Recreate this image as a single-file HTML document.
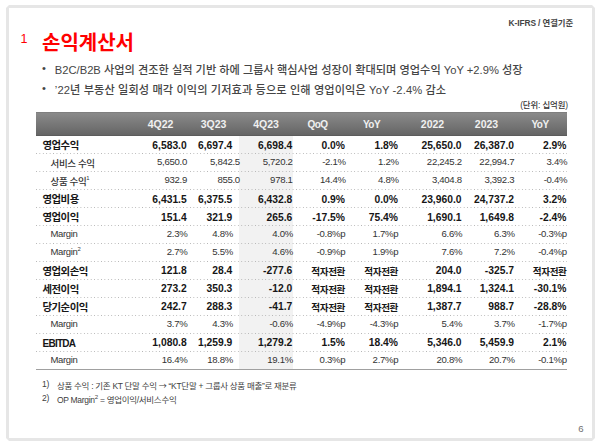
<!DOCTYPE html>
<html lang="ko"><head><meta charset="utf-8"><title>손익계산서</title><style>
*{margin:0;padding:0;box-sizing:border-box}
html,body{width:600px;height:447px;overflow:hidden;background:#fff}
body{position:relative;font-family:'Liberation Sans','Noto Sans CJK KR',sans-serif;color:#404040}
.a{position:absolute;white-space:nowrap}
.frame{position:absolute;left:6px;top:5px;width:589px;height:436px;background:#e6e6e6;clip-path:polygon(3px 0,calc(100% - 3px) 0,100% 3px,100% calc(100% - 3px),calc(100% - 3px) 100%,3px 100%,0 calc(100% - 3px),0 3px)}
.frame:after{content:'';position:absolute;left:3px;top:3px;right:3px;bottom:3px;background:#fff}
.kifrs{right:27px;top:15.5px;font-size:8.4px;font-weight:bold;color:#444;letter-spacing:-0.1px}
.num1{left:20.5px;top:31.5px;font-size:12.5px;color:#f00;line-height:14px}
.title{left:42px;top:26.5px;font-size:20px;font-weight:bold;color:#f00}
.bl{left:42px;font-size:11.2px;color:#454545;font-weight:500}
.bl i{font-style:normal;position:absolute;left:0;top:0.6px}
.bl>span{position:absolute;left:12.8px}
.unit{right:32px;top:97.5px;font-size:8.4px;font-weight:500;color:#333;letter-spacing:-0.1px}
.thead{position:absolute;left:36px;top:112px;width:531px;height:24px;background:linear-gradient(#7f7f7f 1px,#8a8a8a 1px,#656565 23px,#5c5c5c 23px)}
.th{font-size:10.5px;font-weight:bold;color:#f0f0f0;top:116px;line-height:12px;transform:translateX(-50%);margin-top:1.8px}
.th.w{font-size:10px;letter-spacing:-0.6px;top:116.3px;margin-top:2.4px}
.hl{position:absolute;left:239.3px;top:136px;width:53.7px;height:233px;background:#f2f2f2}
.row{position:absolute;left:36px;width:531px;height:18px;background:linear-gradient(to right,#b4b4b4 1px,transparent 1px) 0 100%/3.43px 1px repeat-x}
.c{position:absolute;white-space:nowrap;text-align:right;line-height:12px}
.b{font-weight:bold;color:#161616;font-size:10.3px}
.r{font-size:9.6px;color:#333;letter-spacing:-0.3px;margin-right:-0.3px}
.lab.lat{font-size:9.6px;letter-spacing:-0.25px}
.lat sup{top:-0.6em}
.lab.b{font-size:10.4px;letter-spacing:-0.5px}
.ko{font-size:9.6px;letter-spacing:-0.4px}
.lab.r{font-size:9.5px;letter-spacing:-0.35px;font-weight:500}
sup{font-size:62%;vertical-align:baseline;position:relative;top:-0.85em;line-height:0}
.bot{position:absolute;left:36px;top:368.5px;width:531px;height:1px;background:#a0a0a0}
.fn{left:42px;font-size:8.5px;color:#404040;letter-spacing:-0.3px}
.ar{font-family:'Noto Sans CJK KR',sans-serif;font-size:8px}
.fn i{font-style:normal;position:absolute;left:0}
.fn>span{position:absolute;left:15px}
.fn sup{font-size:72%;top:-0.7em}
.pg{left:578.3px;top:423px;font-size:9.6px;color:#707070}
</style></head>
<body>
<div class="frame"></div>
<div class="a kifrs">K-IFRS / 연결기준</div>
<div class="a num1">1</div>
<div class="a title">손익계산서</div>
<div class="a bl" style="top:61.3px"><i>•</i><span>B2C/B2B 사업의 견조한 실적 기반 하에 그룹사 핵심사업 성장이 확대되며 영업수익 YoY +2.9% 성장</span></div>
<div class="a bl" style="top:81.3px;letter-spacing:0.1px"><i>•</i><span>’22년 부동산 일회성 매각 이익의 기저효과 등으로 인해 영업이익은 YoY -2.4% 감소</span></div>
<div class="a unit">(단위: 십억원)</div>
<div class="thead"></div>
<div class="a th" style="left:160.6px">4Q22</div>
<div class="a th" style="left:213.5px">3Q23</div>
<div class="a th" style="left:266px">4Q23</div>
<div class="a th w" style="left:317.5px">QoQ</div>
<div class="a th w" style="left:371.5px">YoY</div>
<div class="a th" style="left:432.5px">2022</div>
<div class="a th" style="left:486.5px">2023</div>
<div class="a th w" style="left:540px">YoY</div>
<div class="hl"></div>
<div class="row" style="top:136.00px"><div class="c lab b" style="left:6.5px;top:4.4px">영업수익</div><div class="c b" style="right:380.3px;top:3.7px">6,583.0</div><div class="c b" style="right:334.7px;top:3.7px">6,697.4</div><div class="c b" style="right:274.7px;top:3.7px">6,698.4</div><div class="c b" style="right:222.0px;top:3.7px">0.0%</div><div class="c b" style="right:169.0px;top:3.7px">1.8%</div><div class="c b" style="right:105.5px;top:3.7px">25,650.0</div><div class="c b" style="right:53.0px;top:3.7px">26,387.0</div><div class="c b" style="right:0.5px;top:3.7px">2.9%</div></div>
<div class="row" style="top:153.96px"><div class="c lab r" style="left:14.5px;top:3.9px">서비스 수익</div><div class="c r" style="right:380.3px;top:2.0px">5,650.0</div><div class="c r" style="right:327.4px;top:2.0px">5,842.5</div><div class="c r" style="right:274.7px;top:2.0px">5,720.2</div><div class="c r" style="right:221.6px;top:2.0px">-2.1%</div><div class="c r" style="right:168.6px;top:2.0px">1.2%</div><div class="c r" style="right:105.5px;top:2.0px">22,245.2</div><div class="c r" style="right:53.0px;top:2.0px">22,994.7</div><div class="c r" style="right:0.1px;top:2.0px">3.4%</div></div>
<div class="row" style="top:171.92px"><div class="c lab r" style="left:14.5px;top:3.9px">상품 수익<sup>1</sup></div><div class="c r" style="right:380.3px;top:2.0px">932.9</div><div class="c r" style="right:327.4px;top:2.0px">855.0</div><div class="c r" style="right:274.7px;top:2.0px">978.1</div><div class="c r" style="right:221.6px;top:2.0px">14.4%</div><div class="c r" style="right:168.6px;top:2.0px">4.8%</div><div class="c r" style="right:105.5px;top:2.0px">3,404.8</div><div class="c r" style="right:53.0px;top:2.0px">3,392.3</div><div class="c r" style="right:0.1px;top:2.0px">-0.4%</div></div>
<div class="row" style="top:189.88px"><div class="c lab b" style="left:6.5px;top:4.4px">영업비용</div><div class="c b" style="right:380.3px;top:3.7px">6,431.5</div><div class="c b" style="right:334.7px;top:3.7px">6,375.5</div><div class="c b" style="right:274.7px;top:3.7px">6,432.8</div><div class="c b" style="right:222.0px;top:3.7px">0.9%</div><div class="c b" style="right:169.0px;top:3.7px">0.0%</div><div class="c b" style="right:105.5px;top:3.7px">23,960.0</div><div class="c b" style="right:53.0px;top:3.7px">24,737.2</div><div class="c b" style="right:0.5px;top:3.7px">3.2%</div></div>
<div class="row" style="top:207.84px"><div class="c lab b" style="left:6.5px;top:4.4px">영업이익</div><div class="c b" style="right:380.3px;top:3.7px">151.4</div><div class="c b" style="right:334.7px;top:3.7px">321.9</div><div class="c b" style="right:274.7px;top:3.7px">265.6</div><div class="c b" style="right:222.0px;top:3.7px">-17.5%</div><div class="c b" style="right:169.0px;top:3.7px">75.4%</div><div class="c b" style="right:105.5px;top:3.7px">1,690.1</div><div class="c b" style="right:53.0px;top:3.7px">1,649.8</div><div class="c b" style="right:0.5px;top:3.7px">-2.4%</div></div>
<div class="row" style="top:225.80px"><div class="c lab r lat" style="left:14.5px;top:2.2px">Margin</div><div class="c r" style="right:379.9px;top:2.0px">2.3%</div><div class="c r" style="right:334.3px;top:2.0px">4.8%</div><div class="c r" style="right:274.3px;top:2.0px">4.0%</div><div class="c r" style="right:222.0px;top:2.0px">-0.8%p</div><div class="c r" style="right:169.0px;top:2.0px">1.7%p</div><div class="c r" style="right:105.1px;top:2.0px">6.6%</div><div class="c r" style="right:52.6px;top:2.0px">6.3%</div><div class="c r" style="right:0.5px;top:2.0px">-0.3%p</div></div>
<div class="row" style="top:243.76px"><div class="c lab r lat" style="left:14.5px;top:2.2px">Margin<sup>2</sup></div><div class="c r" style="right:379.9px;top:2.0px">2.7%</div><div class="c r" style="right:334.3px;top:2.0px">5.5%</div><div class="c r" style="right:274.3px;top:2.0px">4.6%</div><div class="c r" style="right:222.0px;top:2.0px">-0.9%p</div><div class="c r" style="right:169.0px;top:2.0px">1.9%p</div><div class="c r" style="right:105.1px;top:2.0px">7.6%</div><div class="c r" style="right:52.6px;top:2.0px">7.2%</div><div class="c r" style="right:0.5px;top:2.0px">-0.4%p</div></div>
<div class="row" style="top:261.72px"><div class="c lab b" style="left:6.5px;top:4.4px">영업외손익</div><div class="c b" style="right:380.3px;top:3.7px">121.8</div><div class="c b" style="right:334.7px;top:3.7px">28.4</div><div class="c b" style="right:274.7px;top:3.7px">-277.6</div><div class="c b ko" style="right:222.0px;top:4.0px">적자전환</div><div class="c b ko" style="right:169.0px;top:4.0px">적자전환</div><div class="c b" style="right:105.5px;top:3.7px">204.0</div><div class="c b" style="right:53.0px;top:3.7px">-325.7</div><div class="c b ko" style="right:0.5px;top:4.0px">적자전환</div></div>
<div class="row" style="top:279.68px"><div class="c lab b" style="left:6.5px;top:4.4px">세전이익</div><div class="c b" style="right:380.3px;top:3.7px">273.2</div><div class="c b" style="right:334.7px;top:3.7px">350.3</div><div class="c b" style="right:274.7px;top:3.7px">-12.0</div><div class="c b ko" style="right:222.0px;top:4.0px">적자전환</div><div class="c b ko" style="right:169.0px;top:4.0px">적자전환</div><div class="c b" style="right:105.5px;top:3.7px">1,894.1</div><div class="c b" style="right:53.0px;top:3.7px">1,324.1</div><div class="c b" style="right:0.5px;top:3.7px">-30.1%</div></div>
<div class="row" style="top:297.64px"><div class="c lab b" style="left:6.5px;top:4.4px">당기순이익</div><div class="c b" style="right:380.3px;top:3.7px">242.7</div><div class="c b" style="right:334.7px;top:3.7px">288.3</div><div class="c b" style="right:274.7px;top:3.7px">-41.7</div><div class="c b ko" style="right:222.0px;top:4.0px">적자전환</div><div class="c b ko" style="right:169.0px;top:4.0px">적자전환</div><div class="c b" style="right:105.5px;top:3.7px">1,387.7</div><div class="c b" style="right:53.0px;top:3.7px">988.7</div><div class="c b" style="right:0.5px;top:3.7px">-28.8%</div></div>
<div class="row" style="top:315.60px"><div class="c lab r lat" style="left:14.5px;top:2.2px">Margin</div><div class="c r" style="right:379.9px;top:2.0px">3.7%</div><div class="c r" style="right:334.3px;top:2.0px">4.3%</div><div class="c r" style="right:274.3px;top:2.0px">-0.6%</div><div class="c r" style="right:222.0px;top:2.0px">-4.9%p</div><div class="c r" style="right:169.0px;top:2.0px">-4.3%p</div><div class="c r" style="right:105.1px;top:2.0px">5.4%</div><div class="c r" style="right:52.6px;top:2.0px">3.7%</div><div class="c r" style="right:0.5px;top:2.0px">-1.7%p</div></div>
<div class="row" style="top:333.56px"><div class="c lab b" style="left:6.5px;top:4.4px;font-size:10px;letter-spacing:-0.75px;margin-top:0.3px">EBITDA</div><div class="c b" style="right:380.3px;top:3.7px">1,080.8</div><div class="c b" style="right:334.7px;top:3.7px">1,259.9</div><div class="c b" style="right:274.7px;top:3.7px">1,279.2</div><div class="c b" style="right:222.0px;top:3.7px">1.5%</div><div class="c b" style="right:169.0px;top:3.7px">18.4%</div><div class="c b" style="right:105.5px;top:3.7px">5,346.0</div><div class="c b" style="right:53.0px;top:3.7px">5,459.9</div><div class="c b" style="right:0.5px;top:3.7px">2.1%</div></div>
<div class="row" style="top:351.52px;background:none"><div class="c lab r lat" style="left:14.5px;top:2.2px">Margin</div><div class="c r" style="right:379.9px;top:2.0px">16.4%</div><div class="c r" style="right:334.3px;top:2.0px">18.8%</div><div class="c r" style="right:274.3px;top:2.0px">19.1%</div><div class="c r" style="right:222.0px;top:2.0px">0.3%p</div><div class="c r" style="right:169.0px;top:2.0px">2.7%p</div><div class="c r" style="right:105.1px;top:2.0px">20.8%</div><div class="c r" style="right:52.6px;top:2.0px">20.7%</div><div class="c r" style="right:0.5px;top:2.0px">-0.1%p</div></div>
<div class="bot"></div>
<div class="a fn" style="top:379px"><i>1)</i><span>상품 수익 : 기존 KT 단말 수익 <span class="ar">→</span> “KT단말 + 그룹사 상품 매출”로 재분류</span></div>
<div class="a fn" style="top:393px"><i>2)</i><span>OP Margin<sup>2</sup> = 영업이익/서비스수익</span></div>
<div class="a pg">6</div>
</body></html>
